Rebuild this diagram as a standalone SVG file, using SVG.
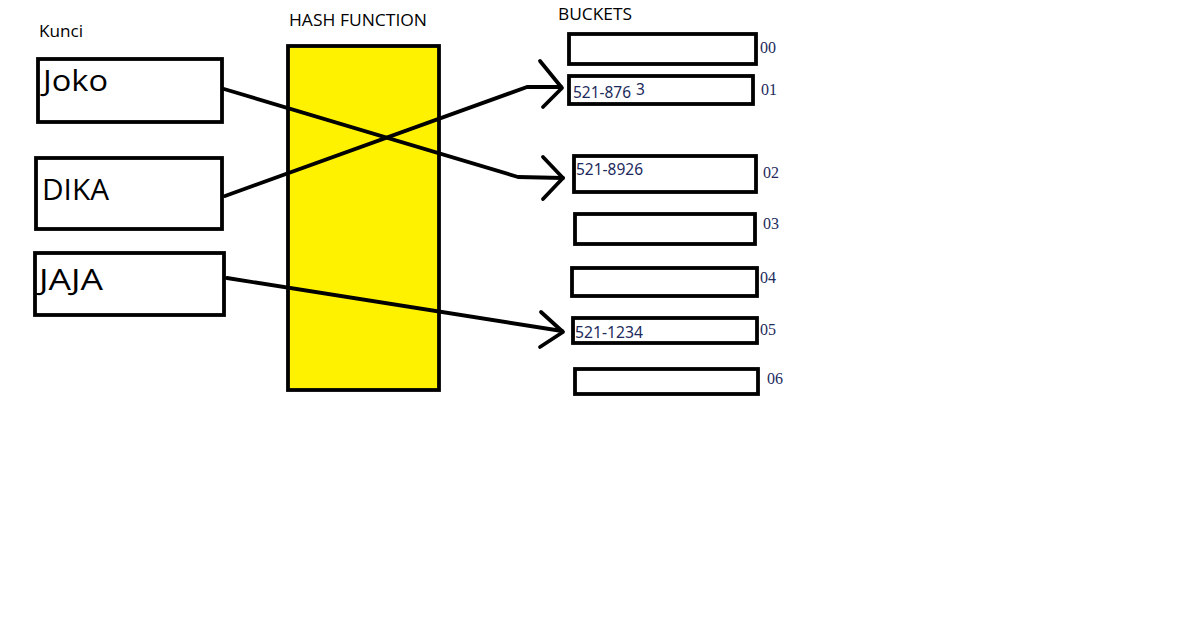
<svg xmlns="http://www.w3.org/2000/svg" width="1200" height="630" viewBox="0 0 1200 630">
<style>
.box{fill:#fff;stroke:#000;stroke-width:3.8}
.hash{fill:#fff200;stroke:#000;stroke-width:3.8}
.big{font-family:"Open Sans","Noto Sans",sans-serif;font-size:30px;fill:#000}
.hdr{font-family:"Open Sans","Noto Sans",sans-serif;font-size:16px;fill:#000}
.val{font-family:"Noto Sans","Liberation Sans",sans-serif;font-size:15.5px;fill:#1c2b5c}
.idx{font-family:"Liberation Serif",serif;font-size:16px;fill:#1c2b5c}
.conn{fill:none;stroke:#000;stroke-width:3.8;stroke-linecap:round;stroke-linejoin:round}
</style>
<rect width="1200" height="630" fill="#fff"/>
<text class="hdr" x="39" y="37" textLength="44" lengthAdjust="spacingAndGlyphs">Kunci</text>
<text class="hdr" x="289" y="26" font-size="17" textLength="138" lengthAdjust="spacingAndGlyphs">HASH FUNCTION</text>
<text class="hdr" x="558" y="20" textLength="74" lengthAdjust="spacingAndGlyphs">BUCKETS</text>

<g id="hash-function"><rect class="hash" x="288" y="46" width="151" height="344"/></g>

<g id="key-joko"><rect class="box" x="38" y="59" width="184" height="63"/><text class="big" x="43" y="91" textLength="65" lengthAdjust="spacingAndGlyphs">Joko</text></g>
<g id="key-dika"><rect class="box" x="36" y="158" width="186" height="71"/><text class="big" x="42" y="200" textLength="67" lengthAdjust="spacingAndGlyphs">DIKA</text></g>
<g id="key-jaja"><rect class="box" x="35" y="253" width="189" height="62"/><text class="big" x="39" y="290" textLength="64" lengthAdjust="spacingAndGlyphs">JAJA</text></g>

<g id="bucket-00"><rect class="box" x="569" y="34" width="187" height="30"/><text class="idx" x="760" y="53">00</text></g>
<g id="bucket-01"><rect class="box" x="569" y="76" width="184" height="28"/><text class="val" x="573" y="98" textLength="58" lengthAdjust="spacingAndGlyphs">521-876</text><text class="val" x="636" y="95">3</text><text class="idx" x="761" y="95">01</text></g>
<g id="bucket-02"><rect class="box" x="574" y="156" width="182" height="36"/><text class="val" x="576" y="175" textLength="67" lengthAdjust="spacingAndGlyphs">521-8926</text><text class="idx" x="763" y="178">02</text></g>
<g id="bucket-03"><rect class="box" x="575" y="214" width="180" height="30"/><text class="idx" x="763" y="229">03</text></g>
<g id="bucket-04"><rect class="box" x="572" y="268" width="185" height="28"/><text class="idx" x="760" y="283">04</text></g>
<g id="bucket-05"><rect class="box" x="573" y="318" width="184" height="25"/><text class="val" x="575" y="338" textLength="68" lengthAdjust="spacingAndGlyphs">521-1234</text><text class="idx" x="760" y="335">05</text></g>
<g id="bucket-06"><rect class="box" x="575" y="369" width="183" height="25"/><text class="idx" x="767" y="384">06</text></g>

<g id="connectors">
<path class="conn" d="M224,89 L518,177 L563,178"/>
<path class="conn" d="M543,157 L563,178 L543,199"/>
<path class="conn" d="M225,196 L527,87 L561,87"/>
<path class="conn" d="M540,61 L562,88 L543,107"/>
<path class="conn" d="M227,278 L562,331"/>
<path class="conn" d="M541,312 L563,332 L540,347"/>
</g>
</svg>
